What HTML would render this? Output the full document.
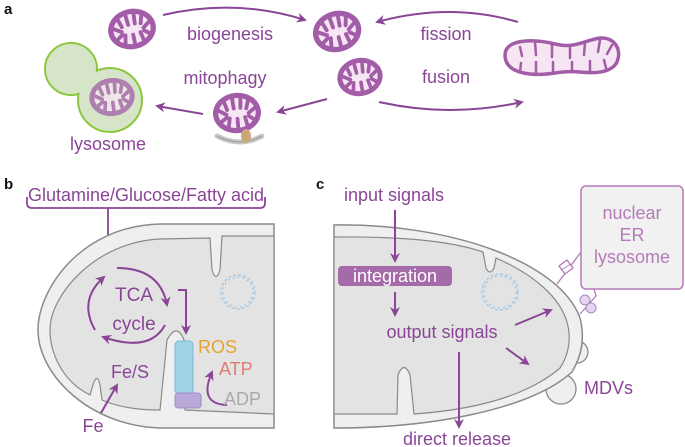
<!DOCTYPE html>
<html><head><meta charset="utf-8"><style>
html,body{margin:0;padding:0;background:#fff}
svg{display:block}
text{font-family:"Liberation Sans",sans-serif}
</style></head><body>
<svg width="685" height="447" viewBox="0 0 685 447" xmlns="http://www.w3.org/2000/svg">
<defs>
<marker id="ah" viewBox="0 0 10 10" refX="8" refY="5" markerWidth="5" markerHeight="5" orient="auto"><path d="M0,0 L10,5 L0,10 L3,5 Z" fill="#8a4596"/></marker>
<symbol id="mito" viewBox="-26 -22 52 44" overflow="visible">
<ellipse rx="25" ry="21" fill="#a35da8"/>
<ellipse rx="19.5" ry="15.5" fill="#f6e6f3"/>
<g stroke="#a35da8" stroke-width="4" stroke-linecap="round" fill="none">
<path d="M-13,-14 L-10,-4 M-4,-17 L-3,-5 M5,-17 L4,-5 M13,-14 L10,-4 M-19,-4 L-11,1 M19,-4 L12,1"/>
<path d="M-10,15 L-8,5 M0,17 L0,6 M10,15 L8,5 M-17,8 L-11,4 M17,8 L12,4"/>
</g>
</symbol>
</defs>

<!-- panel a -->
<text x="4" y="14" font-size="15" font-weight="bold" fill="#111">a</text>
<use href="#mito" x="107" y="6" width="50" height="46" transform="rotate(-12 132 29)"/>
<use href="#mito" x="311" y="10" width="52" height="43" transform="rotate(-15 337 31)"/>
<use href="#mito" x="335" y="57" width="50" height="40" transform="rotate(-10 360 77)"/>
<use href="#mito" x="212" y="90" width="50" height="46" transform="rotate(-5 237 113)"/>
<path d="M217,136 Q240,148 262,136" stroke="#c8c8c8" stroke-width="5" fill="none" stroke-linecap="round"/>
<path d="M217,136 Q240,148 262,136" stroke="#9a9a9a" stroke-width="1" fill="none"/>
<ellipse cx="246" cy="136" rx="5" ry="7" fill="#c9a97a"/>
<!-- lysosome -->
<circle cx="71" cy="69" r="26" fill="#d6e5c8" stroke="#8cc63f" stroke-width="2"/>
<circle cx="110" cy="100" r="32" fill="#d6e5c8" stroke="#8cc63f" stroke-width="2"/>
<circle cx="71" cy="69" r="25" fill="#d6e5c8"/>
<g opacity="0.75"><use href="#mito" x="87" y="77" width="50" height="40" transform="rotate(-8 112 97)"/></g>
<!-- long mito -->
<path d="M505,55 C505,40 530,38 555,44 C575,49 585,40 600,38 C615,37 622,50 617,62 C612,72 598,74 580,72 C560,70 550,76 530,74 C512,72 505,65 505,55 Z" fill="#f6e6f3" stroke="#a35da8" stroke-width="3.5"/>
<g stroke="#a35da8" stroke-width="2.5" stroke-linecap="round"><path d="M520,47 L522,56 M535,42 L536,55 M552,45 L552,57 M570,48 L570,58 M585,42 L584,55 M600,40 L598,52 M612,45 L607,54 M520,72 L521,63 M536,74 L536,62 M553,73 L553,62 M572,71 L572,62 M590,71 L590,61 M606,68 L604,60"/></g>
<g stroke="#8a4596" stroke-width="2" fill="none" marker-end="url(#ah)">
<path d="M163,15 Q235,-2 305,20"/>
<path d="M518,22 Q450,2 377,22"/>
<path d="M379,102 Q450,118 522,102"/>
<path d="M327,99 L278,112"/>
<path d="M203,114 L157,106"/>
</g>
<g fill="#8a4596" font-size="18" text-anchor="middle">
<text x="230" y="40">biogenesis</text>
<text x="446" y="40">fission</text>
<text x="446" y="83">fusion</text>
<text x="225" y="84">mitophagy</text>
<text x="108" y="150">lysosome</text>
</g>

<!-- panel b -->
<text x="4" y="189" font-size="15" font-weight="bold" fill="#111">b</text>
<text x="146" y="201" font-size="18" fill="#8a4596" text-anchor="middle">Glutamine/Glucose/Fatty acid</text>
<path d="M27,197 L27,203 Q27,208 32,208 L260,208 Q265,208 265,203 L265,197" stroke="#8a4596" stroke-width="1.8" fill="none"/>
<path d="M108,208 L108,265" stroke="#8a4596" stroke-width="1.8" fill="none" marker-end="url(#ah)"/>
<path d="M274,224 L160,224 C80,226 38,290 38,330 C38,375 90,426 160,428 L274,428 Z" fill="#efefef" stroke="#8a8a8a" stroke-width="1.5"/>
<path d="M274,236 L222,236 L220,270 Q216,283 212,270 L210,238 L160,239 C95,242 50,295 50,330 C50,350 60,380 90,395 L93,385 Q97,372 100,385 L102,400 C120,408 140,410 160,410 L167,340 Q177,322 184,340 L185,410 L274,414 Z" fill="#e3e3e3" stroke="#8a8a8a" stroke-width="1.2"/>
<g stroke="#8a4596" stroke-width="2" fill="none" marker-end="url(#ah)">
<path d="M117,268 Q160,268 167,305"/>
<path d="M165,325 Q150,353 103,337"/>
<path d="M95,330 Q78,300 104,277"/>
<path d="M178,290 L186,290 L186,333"/>
<path d="M101,413 L117,385"/>
<path d="M227,405 Q198,404 212,372"/>
</g>
<g fill="#8a4596" font-size="19" text-anchor="middle">
<text x="134" y="301">TCA</text>
<text x="134" y="330">cycle</text>
<text x="130" y="378" font-size="18">Fe/S</text>
<text x="93" y="432" font-size="18">Fe</text>
</g>
<rect x="175" y="341" width="18" height="53" rx="4" fill="#9fd3e6" stroke="#79b9d4"/>
<rect x="175" y="393" width="26" height="15" rx="3" fill="#b9a8d8" stroke="#a08cc6"/>
<text x="198" y="353" font-size="18" fill="#e8a12f">ROS</text>
<text x="219" y="375" font-size="18" fill="#e07b72">ATP</text>
<text x="224" y="405" font-size="18" fill="#aaaaaa">ADP</text>
<circle cx="238" cy="292" r="17" fill="none" stroke="#9cc4e4" stroke-width="1.2" stroke-dasharray="3 2"/>
<circle cx="238" cy="292" r="15" fill="none" stroke="#9cc4e4" stroke-width="1.2" stroke-dasharray="2 3"/>

<!-- panel c -->
<text x="316" y="189" font-size="15" font-weight="bold" fill="#111">c</text>
<circle cx="577" cy="352" r="11" fill="#efefef" stroke="#8a8a8a" stroke-width="1.3"/>
<circle cx="561" cy="389" r="15" fill="#efefef" stroke="#8a8a8a" stroke-width="1.3"/>
<path d="M334,225 C450,223 560,262 580,318 C585,338 582,355 572,372 C530,410 430,428 334,428 Z" fill="#efefef" stroke="#8a8a8a" stroke-width="1.5"/>
<path d="M334,237 C420,236 460,244 483,252 L486,268 Q490,276 494,268 L496,258 C535,275 560,298 567,322 C572,340 568,356 560,368 C525,398 470,410 414,414 L410,375 Q404,360 398,375 L397,414 L334,414 Z" fill="#e3e3e3" stroke="#8a8a8a" stroke-width="1.2"/>
<circle cx="500" cy="292" r="18" fill="none" stroke="#9cc4e4" stroke-width="1.2" stroke-dasharray="3 2"/>
<circle cx="500" cy="292" r="16" fill="none" stroke="#9cc4e4" stroke-width="1.2" stroke-dasharray="2 3"/>
<text x="394" y="201" font-size="18" fill="#8a4596" text-anchor="middle">input signals</text>
<g stroke="#8a4596" stroke-width="2" fill="none" marker-end="url(#ah)">
<path d="M395,210 L395,261"/>
<path d="M395,292 L395,315"/>
<path d="M515,325 L551,310"/>
<path d="M506,348 L528,364"/>
<path d="M459,352 L459,427"/>
</g>
<rect x="338" y="266" width="114" height="20" rx="4" fill="#a56aa8"/>
<text x="395" y="282" font-size="18" fill="#fff" text-anchor="middle">integration</text>
<text x="442" y="338" font-size="18" fill="#8a4596" text-anchor="middle">output signals</text>
<text x="457" y="445" font-size="18" fill="#8a4596" text-anchor="middle">direct release</text>
<text x="584" y="394" font-size="18" fill="#8a4596">MDVs</text>
<rect x="581" y="186" width="102" height="103" rx="5" fill="#f1f1f1" stroke="#b57bb9" stroke-width="1.5"/>
<g fill="#b57bb9" font-size="18" text-anchor="middle">
<text x="632" y="219">nuclear</text>
<text x="632" y="241">ER</text>
<text x="632" y="263">lysosome</text>
</g>
<path d="M557,284 L581,252" stroke="#b57bb9" stroke-width="1.3"/>
<rect x="561" y="262" width="10" height="10" fill="#fff" stroke="#b57bb9" stroke-width="1.3" transform="rotate(-37 566 267)"/>
<path d="M561,270 L571,264" stroke="#b57bb9"/>
<path d="M580,314 L596,296 L594,289" stroke="#b57bb9" stroke-width="1.3" fill="none"/>
<circle cx="585" cy="300" r="5" fill="#e6d3ee" stroke="#a08cc6"/>
<circle cx="591" cy="308" r="5" fill="#e6d3ee" stroke="#a08cc6"/>
</svg>
</body></html>
